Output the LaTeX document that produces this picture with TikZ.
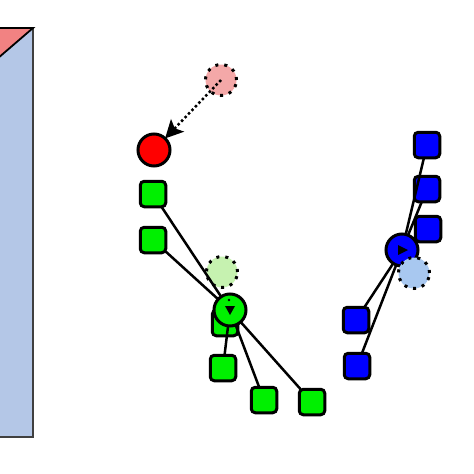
\documentclass[tikz,border=0pt]{standalone}
\usepackage{tikz}
\usetikzlibrary{arrows.meta,positioning}
\definecolor{panelblue}{RGB}{180,199,231}
\definecolor{panelred}{RGB}{242,130,130}
\definecolor{ghostred}{RGB}{244,168,168}
\definecolor{ghostgreen}{RGB}{198,242,176}
\definecolor{ghostblue}{RGB}{168,200,240}
\definecolor{pegreen}{RGB}{0,240,0}

\begin{document}
\begin{tikzpicture}
              [x=1pt,y=-1pt,
                every node/.style={draw,line width=3pt,inner sep=0pt,outer sep=0pt},
                sq/.style={rectangle,rounded corners=4pt,minimum size=25.5pt},
                ball/.style={circle,minimum size=32pt},
                ghost/.style={circle,minimum size=31pt,line width=3pt,dash pattern=on 3pt off 6pt},
                link/.style={line width=2.5pt}]
              \useasboundingbox (0,0) rectangle (474,474);
              % wall on the left
              \draw[fill=panelblue,draw=black!75,line width=1.8pt] (-10,28) rectangle (33,437);
              \draw[fill=panelred,draw=black,line width=1.8pt] (-10,28) -- (33,28) -- (-10,65) -- cycle;
              % red
              \node[ball,fill=red] (r0) at (154,150) {};
              \node[ghost,fill=ghostred] (r1) at (221,80) {};
              % green
              \node[sq,fill=pegreen] (g1) at (153,194) {};
              \node[sq,fill=pegreen] (g2) at (153,240) {};
              \node[sq,fill=pegreen] (g6) at (225,323) {};
              \node[ball,fill=pegreen] (g0) at (230,310) {};
              \node[ghost,fill=ghostgreen] (g7) at (222,272) {};
              \node[sq,fill=pegreen] (g3) at (223,368) {};
              \node[sq,fill=pegreen] (g4) at (264,400) {};
              \node[sq,fill=pegreen] (g5) at (312,402) {};
              % blue
              \node[sq,fill=blue] (b1) at (427,145) {};
              \node[sq,fill=blue] (b2) at (427,189) {};
              \node[sq,fill=blue] (b3) at (428,229) {};
              \node[ball,fill=blue] (b0) at (402,250) {};
              \node[ghost,fill=ghostblue] (b6) at (414,273) {};
              \node[sq,fill=blue] (b4) at (356,320) {};
              \node[sq,fill=blue] (b5) at (357,366) {};
              % marks
              \fill ([shift={(-5,-4)}]g0.center) -- ++(10,0) -- ++(-5,9) -- cycle;
              \fill ([shift={(-1,-10)}]g0.center) circle (1.4pt);
              \fill ([shift={(-4,-5)}]b0.center) -- ++(0,10) -- ++(10,-5) -- cycle;
              \foreach \from/\to in {g1/g0,g2/g0,g0/g3,g0/g4,g0/g5,b1/b0,b2/b0,b3/b0,b0/b4,b0/b5}
              \draw[link] (\from) -- (\to);
              \draw[link,dash pattern=on 2.5pt off 2.5pt,-{Stealth[length=18pt,width=18pt,inset=4pt]}] (r1.center) -- (r0);
            \end{tikzpicture}
\end{document}
